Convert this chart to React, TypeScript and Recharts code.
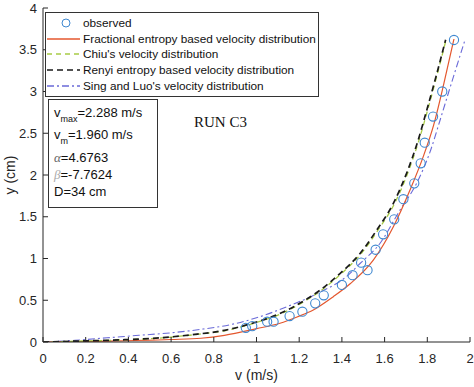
import React from "react";
import { ComposedChart, Line, Scatter, XAxis, YAxis, Legend } from "recharts";

// observed points (v in m/s, y in cm)
const obsV = [0.95, 0.98, 1.05, 1.08, 1.155, 1.215, 1.275, 1.315, 1.4, 1.45, 1.49, 1.52, 1.558, 1.593, 1.645, 1.688, 1.739, 1.769, 1.788, 1.827, 1.87, 1.925];
const obsY = [0.17, 0.19, 0.243, 0.243, 0.311, 0.363, 0.463, 0.559, 0.683, 0.8, 0.95, 0.86, 1.105, 1.29, 1.469, 1.71, 1.9, 2.14, 2.387, 2.7, 3.0, 3.617];

// fractional entropy based
const fracY = [0, 0.01, 0.03, 0.045, 0.08, 0.16, 0.225, 0.3, 0.383, 0.543, 0.7, 0.98, 1.38, 1.82, 2.22, 2.6, 3.1, 3.63];
const fracV = [0, 0.3, 0.6, 0.74, 0.85, 1.0, 1.11, 1.19, 1.266, 1.36, 1.44, 1.547, 1.641, 1.719, 1.781, 1.83, 1.878, 1.925];

// Chiu
const chiuY = [0, 0.01, 0.025, 0.05, 0.085, 0.14, 0.24, 0.33, 0.46, 0.62, 0.82, 1.06, 1.34, 1.66, 2.02, 2.4, 2.8, 3.2, 3.62];
const chiuV = [0, 0.16, 0.37, 0.56, 0.7, 0.86, 1.008, 1.108, 1.207, 1.304, 1.398, 1.491, 1.569, 1.647, 1.708, 1.759, 1.804, 1.846, 1.888];

// Renyi entropy based
const renyiY = [0, 0.01, 0.025, 0.05, 0.085, 0.14, 0.24, 0.33, 0.46, 0.62, 0.82, 1.06, 1.34, 1.66, 2.02, 2.4, 2.8, 3.2, 3.62];
const renyiV = [0, 0.15, 0.36, 0.55, 0.69, 0.85, 1.0, 1.1, 1.2, 1.297, 1.391, 1.485, 1.563, 1.641, 1.703, 1.755, 1.8, 1.843, 1.886];

// Singh and Luo
const singY = [0, 0.02, 0.05, 0.08, 0.11, 0.155, 0.22, 0.29, 0.42, 0.6, 0.78, 0.94, 1.18, 1.58, 1.9, 2.3, 2.65, 3.0, 3.63];
const singV = [0, 0.15, 0.3, 0.45, 0.6, 0.75, 0.9, 1.0, 1.14, 1.3, 1.42, 1.485, 1.578, 1.672, 1.75, 1.816, 1.859, 1.901, 1.978];

const xTicks = [0, 0.2, 0.4, 0.6, 0.8, 1, 1.2, 1.4, 1.6, 1.8, 2];
const yTicks = [0, 0.5, 1, 1.5, 2, 2.5, 3, 3.5, 4];

const pts = (vs: number[], ys: number[]) => vs.map((v, i) => ({ v, y: ys[i] }));

const obsData = pts(obsV, obsY);
const fracData = pts(fracV, fracY);
const chiuData = pts(chiuV, chiuY);
const renyiData = pts(renyiV, renyiY);
const singData = pts(singV, singY);

const FONT = "'Liberation Sans', Arial, sans-serif";
const AXIS = "#262626";

const series = [
  { name: "observed", color: "#3f88d0", dash: "", kind: "circle" },
  { name: "Fractional entropy based velocity distribution", color: "#e4572e", dash: "", kind: "line" },
  { name: "Chiu's velocity distribution", color: "#a8cc45", dash: "5 4", kind: "line" },
  { name: "Renyi entropy based velocity distribution", color: "#1a1a1a", dash: "6 4", kind: "line" },
  { name: "Sing and Luo's velocity distribution", color: "#6a6ad8", dash: "7 3 2 3", kind: "line" },
];

const LegendBox = () => (
  <div
    style={{
      border: "1px solid #333",
      background: "#fff",
      width: 272,
      padding: "2px 0",
      fontFamily: FONT,
      fontSize: 11.8,
      color: "#111",
    }}
  >
    {series.map((s) => (
      <div key={s.name} style={{ display: "flex", alignItems: "center", height: 15.8 }}>
        <svg width={36} height={12} style={{ flex: "none" }}>
          {s.kind === "circle" ? (
            <circle cx={20} cy={6} r={4} fill="none" stroke={s.color} strokeWidth={1} />
          ) : (
            <line x1={1} y1={6} x2={34} y2={6} stroke={s.color} strokeWidth={1.3} strokeDasharray={s.dash} />
          )}
        </svg>
        <span style={{ marginLeft: 1, whiteSpace: "nowrap" }}>{s.name}</span>
      </div>
    ))}
  </div>
);

const Ring = (props: any) => {
  const { cx, cy } = props;
  return <circle cx={cx} cy={cy} r={4.6} fill="none" stroke="#3f88d0" strokeWidth={1.1} />;
};

const YLabel = (props: any) => {
  const vb = props.viewBox || { x: 0, y: 8, width: 43, height: 334 };
  const x = vb.x + 15;
  const y = vb.y + vb.height / 2;
  return (
    <text x={x} y={y} transform={`rotate(-90, ${x}, ${y})`} textAnchor="middle" fontSize={14} fontFamily={FONT} fill={AXIS}>
      y (cm)
    </text>
  );
};

export default function App() {
  const tickStyle = { fontSize: 13, fontFamily: FONT, fill: AXIS };
  return (
    <div style={{ position: "absolute", left: 0, top: 0, width: 474, height: 387, background: "#fff" }}>
      <ComposedChart width={474} height={387} margin={{ top: 8, right: 4, left: 0, bottom: 0 }}>
        <XAxis
          dataKey="v"
          type="number"
          domain={[0, 2]}
          ticks={xTicks}
          interval={0}
          allowDataOverflow
          height={45}
          tickSize={-5}
          tickMargin={17}
          tick={tickStyle}
          stroke={AXIS}
          label={{ value: "v (m/s)", position: "insideBottom", offset: 7, fontSize: 14, fontFamily: FONT, fill: AXIS }}
        />
        <XAxis
          xAxisId="top"
          orientation="top"
          type="number"
          domain={[0, 2]}
          ticks={xTicks}
          interval={0}
          allowDataOverflow
          height={0}
          tickSize={-5}
          tick={false}
          stroke={AXIS}
        />
        <YAxis
          type="number"
          domain={[0, 4]}
          ticks={yTicks}
          interval={0}
          allowDataOverflow
          width={43}
          tickSize={-5}
          tickMargin={11}
          tick={tickStyle}
          stroke={AXIS}
          label={{ content: <YLabel /> }}
        />
        <YAxis
          yAxisId="right"
          orientation="right"
          type="number"
          domain={[0, 4]}
          ticks={yTicks}
          interval={0}
          allowDataOverflow
          width={0}
          tickSize={-5}
          tick={false}
          stroke={AXIS}
        />
        <Legend
          layout="vertical"
          align="center"
          verticalAlign="middle"
          content={() => <LegendBox />}
          wrapperStyle={{ left: 45, top: 12, width: "auto" }}
        />
        <Line type="monotone" data={singData} dataKey="y" name={series[4].name} stroke={series[4].color} strokeWidth={1.1} strokeDasharray={series[4].dash} dot={false} isAnimationActive={false} />
        <Line type="monotone" data={fracData} dataKey="y" name={series[1].name} stroke={series[1].color} strokeWidth={1.2} dot={false} isAnimationActive={false} />
        <Line type="monotone" data={chiuData} dataKey="y" name={series[2].name} stroke={series[2].color} strokeWidth={1.3} strokeDasharray={series[2].dash} dot={false} isAnimationActive={false} />
        <Line type="monotone" data={renyiData} dataKey="y" name={series[3].name} stroke={series[3].color} strokeWidth={1.7} strokeDasharray={series[3].dash} dot={false} isAnimationActive={false} />
        <Scatter data={obsData} dataKey="y" name={series[0].name} shape={<Ring />} isAnimationActive={false} />
      </ComposedChart>
      <svg width={474} height={387} style={{ position: "absolute", left: 0, top: 0, pointerEvents: "none" }}>
        <rect x={48.5} y={99.5} width={109} height={108} fill="#fff" stroke="#333" strokeWidth={1} />
        <g fontFamily={FONT} fontSize={13} fill="#111">
          <text x={54} y={117}>
            v<tspan fontSize={9} dy={5}>max</tspan>
            <tspan dy={-5}>=2.288 m/s</tspan>
          </text>
          <text x={54} y={139}>
            v<tspan fontSize={9} dy={5}>m</tspan>
            <tspan dy={-5}>=1.960 m/s</tspan>
          </text>
          <text x={54} y={162}>
            <tspan fontFamily="'Liberation Serif', serif" fontStyle="italic" fill="#666">α</tspan>=4.6763
          </text>
          <text x={54} y={179}>
            <tspan fontFamily="'Liberation Serif', serif" fontStyle="italic" fill="#aaa">β</tspan>=-7.7624
          </text>
          <text x={54} y={196}>D=34 cm</text>
        </g>
        <text x={194} y={127} fontFamily="'Liberation Serif', 'Times New Roman', serif" fontSize={15} fill="#111">
          RUN C3
        </text>
      </svg>
    </div>
  );
}
